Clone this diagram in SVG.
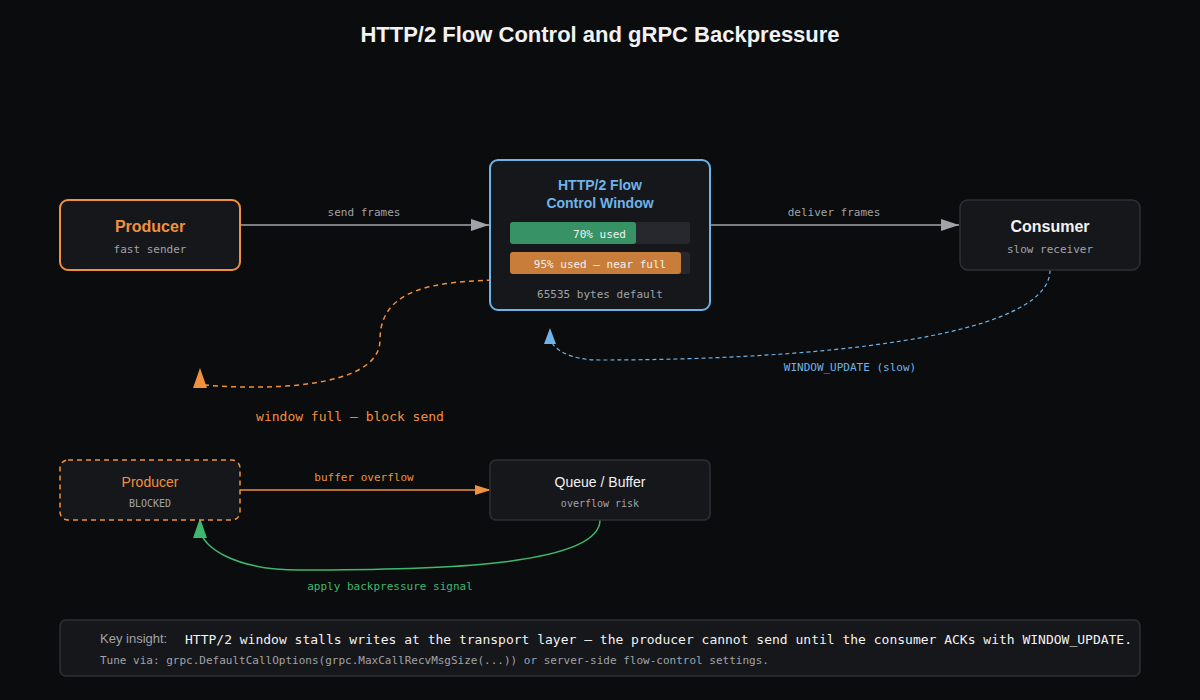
<svg xmlns="http://www.w3.org/2000/svg" width="1200" height="700" viewBox="0 0 1200 700">
<style>
.sans{font-family:"Liberation Sans",Arial,sans-serif}
.mono{font-family:"DejaVu Sans Mono","Liberation Mono",monospace}
.box{fill:#16171b;stroke:#2e3035;stroke-width:1.5}
</style>
<defs>
<marker id="ag" markerWidth="10" markerHeight="10" refX="9" refY="5" orient="auto" markerUnits="userSpaceOnUse" viewBox="0 0 10 10"><path d="M0,0L10,5L0,10z" fill="#a0a3a8"/></marker>
<marker id="ao" markerWidth="10" markerHeight="10" refX="9" refY="5" orient="auto" markerUnits="userSpaceOnUse" viewBox="0 0 10 10"><path d="M0,0L10,5L0,10z" fill="#f0913d"/></marker>
</defs>
<rect width="1200" height="700" fill="#0b0c0e"/>
<text x="600" y="42" text-anchor="middle" class="sans" font-size="22" font-weight="bold" fill="#f2f2f2">HTTP/2 Flow Control and gRPC Backpressure</text>

<g id="connectors">
<line x1="240" y1="225" x2="489" y2="225" stroke="#a0a3a8" stroke-width="1.5"/>
<path d="M471,219L489,225L471,231z" fill="#a0a3a8"/>
<text x="364" y="216" text-anchor="middle" class="mono" font-size="11" fill="#a0a3a8">send frames</text>
<line x1="710" y1="225" x2="959" y2="225" stroke="#a0a3a8" stroke-width="1.5"/>
<path d="M941,219L959,225L941,231z" fill="#a0a3a8"/>
<text x="834" y="216" text-anchor="middle" class="mono" font-size="11" fill="#a0a3a8">deliver frames</text>
<path d="M510,280C430,280 380,290 380,340C380,390 260,390 205,385" fill="none" stroke="#f0913d" stroke-width="1.5" stroke-dasharray="5,4"/>
<path d="M200,368L193,388L207,388z" fill="#f0913d"/>
<text x="350" y="421" text-anchor="middle" class="mono" font-size="13" fill="#f0913d">window full — block send</text>
<path d="M1050,270C1050,340 800,360 600,360C570,360 555,350 550,340" fill="none" stroke="#6fb3e8" stroke-width="1.2" stroke-dasharray="4,3"/>
<path d="M550,328L544,344L556,344z" fill="#6fb3e8"/>
<text x="850" y="371" text-anchor="middle" class="mono" font-size="11" fill="#6fb3e8">WINDOW_UPDATE (slow)</text>
<line x1="240" y1="490" x2="489" y2="490" stroke="#f0913d" stroke-width="1.5"/>
<path d="M475,485L491,490L475,495z" fill="#f0913d"/>
<text x="364" y="481" text-anchor="middle" class="mono" font-size="11" fill="#f0913d">buffer overflow</text>
<path d="M600,520C600,570 400,570 300,570C230,570 205,545 202,535" fill="none" stroke="#3fb86f" stroke-width="1.5"/>
<path d="M200,518L193,538L207,538z" fill="#3fb86f"/>
<text x="390" y="590" text-anchor="middle" class="mono" font-size="11" fill="#3fb86f">apply backpressure signal</text>
</g>

<g id="producer">
<rect x="60" y="200" width="180" height="70" rx="8" fill="#16171b" stroke="#f0913d" stroke-width="2"/>
<text x="150" y="232" text-anchor="middle" class="sans" font-size="16" font-weight="bold" fill="#f0913d">Producer</text>
<text x="150" y="253" text-anchor="middle" class="mono" font-size="11" fill="#a0a3a8">fast sender</text>
</g>
<g id="window">
<rect x="490" y="160" width="220" height="150" rx="8" fill="#16171b" stroke="#6fb3e8" stroke-width="2"/>
<text x="600" y="190" text-anchor="middle" class="sans" font-size="14" font-weight="bold" fill="#6fb3e8">HTTP/2 Flow</text>
<text x="600" y="208" text-anchor="middle" class="sans" font-size="14" font-weight="bold" fill="#6fb3e8">Control Window</text>
<rect x="510" y="222" width="180" height="22" rx="3" fill="#26282d"/>
<rect x="510" y="222" width="126" height="22" rx="3" fill="#379365"/>
<text x="626" y="238" text-anchor="end" class="mono" font-size="11" fill="#f2f2f2">70% used</text>
<rect x="510" y="252" width="180" height="22" rx="3" fill="#26282d"/>
<rect x="510" y="252" width="171" height="22" rx="3" fill="#c97d3b"/>
<text x="600" y="268" text-anchor="middle" class="mono" font-size="11" fill="#f2f2f2">95% used — near full</text>
<text x="600" y="298" text-anchor="middle" class="mono" font-size="11" fill="#a0a3a8">65535 bytes default</text>
</g>
<g id="consumer">
<rect x="960" y="200" width="180" height="70" rx="8" class="box"/>
<text x="1050" y="232" text-anchor="middle" class="sans" font-size="16" font-weight="bold" fill="#f2f2f2">Consumer</text>
<text x="1050" y="253" text-anchor="middle" class="mono" font-size="11" fill="#a0a3a8">slow receiver</text>
</g>
<g id="producer-blocked">
<rect x="60" y="460" width="180" height="60" rx="8" fill="#16171b" stroke="#f0913d" stroke-width="1.5" stroke-dasharray="5,4"/>
<text x="150" y="487" text-anchor="middle" class="sans" font-size="14" fill="#f0913d">Producer</text>
<text x="150" y="507" text-anchor="middle" class="mono" font-size="10" fill="#a0a3a8">BLOCKED</text>
</g>
<g id="queue">
<rect x="490" y="460" width="220" height="60" rx="6" class="box"/>
<text x="600" y="487" text-anchor="middle" class="sans" font-size="14" fill="#f2f2f2">Queue / Buffer</text>
<text x="600" y="507" text-anchor="middle" class="mono" font-size="10" fill="#a0a3a8">overflow risk</text>
</g>
<g id="insight">
<rect x="60" y="620" width="1080" height="56" rx="6" class="box"/>
<text x="100" y="643" class="sans" font-size="13" fill="#a0a3a8">Key insight:</text>
<text x="185" y="644" class="mono" font-size="13" fill="#f2f2f2">HTTP/2 window stalls writes at the transport layer — the producer cannot send until the consumer ACKs with WINDOW_UPDATE.</text>
<text x="100" y="664" class="mono" font-size="11" fill="#a0a3a8">Tune via: grpc.DefaultCallOptions(grpc.MaxCallRecvMsgSize(...)) or server-side flow-control settings.</text>
</g>
</svg>
